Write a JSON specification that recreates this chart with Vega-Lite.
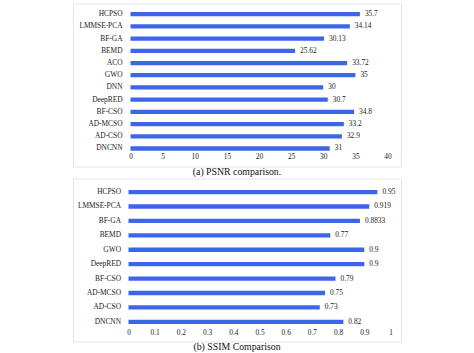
{
  "$schema": "https://vega.github.io/schema/vega-lite/v6.json",
  "background": "white",
  "padding": {"left": 72, "top": 2.5, "right": 0, "bottom": 0},
  "spacing": 0,
  "config": {
    "view": {"stroke": "#e4e4e4", "strokeWidth": 1},
    "font": "Liberation Serif",
    "axis": {"grid": false, "domain": false, "ticks": false, "labelFont": "Liberation Serif", "labelFontSize": 7.4, "labelColor": "#222", "title": null},
    "title": {"font": "Liberation Serif", "fontSize": 9.8, "fontWeight": "normal", "color": "#111", "orient": "bottom", "anchor": "middle"}
  },
  "vconcat": [
    {
      "width": 328,
      "height": 163,
      "title": {"text": "(a) PSNR comparison.", "offset": 0},
      "data": {"values": [
        {"m": "HCPSO", "v": 35.7, "t": "35.7"},
        {"m": "LMMSE-PCA", "v": 34.14, "t": "34.14"},
        {"m": "BF-GA", "v": 30.13, "t": "30.13"},
        {"m": "BEMD", "v": 25.62, "t": "25.62"},
        {"m": "ACO", "v": 33.72, "t": "33.72"},
        {"m": "GWO", "v": 35, "t": "35"},
        {"m": "DNN", "v": 30, "t": "30"},
        {"m": "DeepRED", "v": 30.7, "t": "30.7"},
        {"m": "BF-CSO", "v": 34.8, "t": "34.8"},
        {"m": "AD-MCSO", "v": 33.2, "t": "33.2"},
        {"m": "AD-CSO", "v": 32.9, "t": "32.9"},
        {"m": "DNCNN", "v": 31, "t": "31"}
      ]},
      "encoding": {
        "y": {"field": "m", "type": "nominal", "sort": null,
              "scale": {"paddingInner": 0.65, "paddingOuter": 1.5, "align": 0.35},
              "axis": {"offset": -49, "labelPadding": 0}},
        "x": {"field": "v", "type": "quantitative",
              "scale": {"domain": [-8.95, 42.1], "nice": false, "zero": false},
              "axis": {"values": [0, 5, 10, 15, 20, 25, 30, 35, 40], "offset": -14, "labelPadding": 0}}
      },
      "layer": [
        {"mark": {"type": "bar", "color": "#3d65e8"}, "encoding": {"x2": {"datum": 0}}},
        {"mark": {"type": "text", "align": "left", "baseline": "middle", "dx": 5, "fontSize": 7.4, "font": "Liberation Serif", "color": "#222"}, "encoding": {"text": {"field": "t"}}}
      ]
    },
    {
      "width": 328,
      "height": 163,
      "title": {"text": "(b) SSIM Comparison", "offset": 0},
      "data": {"values": [
        {"m": "HCPSO", "v": 0.95, "t": "0.95"},
        {"m": "LMMSE-PCA", "v": 0.919, "t": "0.919"},
        {"m": "BF-GA", "v": 0.8833, "t": "0.8833"},
        {"m": "BEMD", "v": 0.77, "t": "0.77"},
        {"m": "GWO", "v": 0.9, "t": "0.9"},
        {"m": "DeepRED", "v": 0.9, "t": "0.9"},
        {"m": "BF-CSO", "v": 0.79, "t": "0.79"},
        {"m": "AD-MCSO", "v": 0.75, "t": "0.75"},
        {"m": "AD-CSO", "v": 0.73, "t": "0.73"},
        {"m": "DNCNN", "v": 0.82, "t": "0.82"}
      ]},
      "encoding": {
        "y": {"field": "m", "type": "nominal", "sort": null,
              "scale": {"paddingInner": 0.7, "paddingOuter": 1.414, "align": 0.395},
              "axis": {"offset": -47.5, "labelPadding": 0}},
        "x": {"field": "v", "type": "quantitative",
              "scale": {"domain": [-0.2118, 1.04], "nice": false, "zero": false},
              "axis": {"values": [0, 0.1, 0.2, 0.3, 0.4, 0.5, 0.6, 0.7, 0.8, 0.9, 1], "format": "~g", "offset": -13, "labelPadding": 0}}
      },
      "layer": [
        {"mark": {"type": "bar", "color": "#3d65e8"}, "encoding": {"x2": {"datum": 0}}},
        {"mark": {"type": "text", "align": "left", "baseline": "middle", "dx": 5, "fontSize": 7.4, "font": "Liberation Serif", "color": "#222"}, "encoding": {"text": {"field": "t"}}}
      ]
    }
  ]
}
